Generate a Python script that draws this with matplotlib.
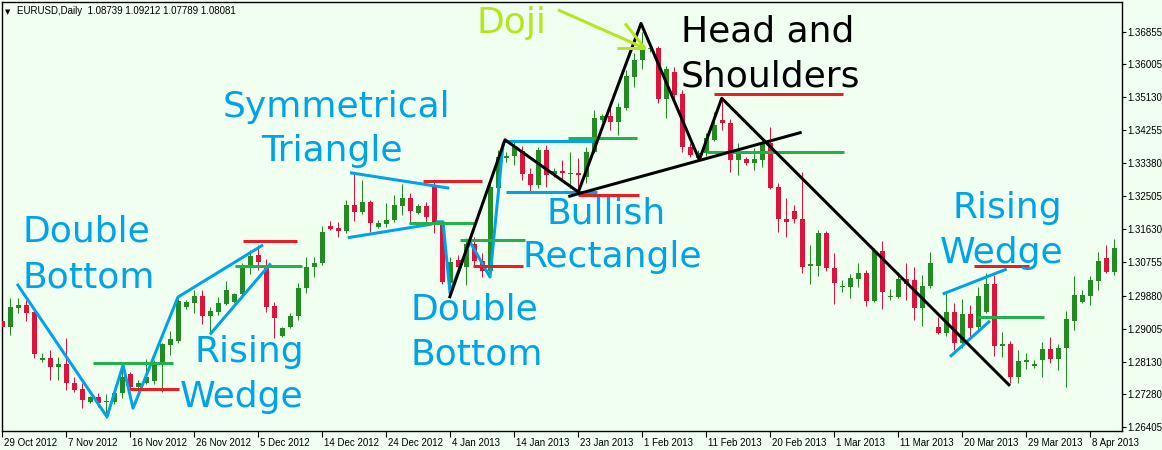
import numpy as np
import matplotlib
matplotlib.use("Agg")
import matplotlib.pyplot as plt

# ---------------- data (EURUSD daily candles) ----------------
opens = [
1.2921, 1.2905, 1.2955, 1.2963, 1.2944, 1.2817, 1.2823, 1.2799, 1.2807, 1.2757,
1.2741, 1.2706, 1.2720, 1.2706, 1.2706, 1.2730, 1.2780, 1.2746, 1.2757, 1.2762,
1.2810, 1.2857, 1.2868, 1.2958, 1.2968, 1.2987, 1.2934, 1.2944, 1.2966, 1.2971,
1.2992, 1.3063, 1.3095, 1.3069, 1.2960, 1.2881, 1.2905, 1.2934, 1.3008, 1.3063,
1.3074, 1.3172, 1.3167, 1.3159, 1.3228, 1.3209, 1.3235, 1.3169, 1.3177, 1.3188,
1.3225, 1.3246, 1.3206, 1.3225, 1.3280, 1.3175, 1.3021, 1.3082, 1.3063, 1.3124,
1.3079, 1.3053, 1.3273, 1.3352, 1.3357, 1.3370, 1.3310, 1.3280, 1.3373, 1.3310,
1.3318, 1.3310, 1.3312, 1.3302, 1.3368, 1.3452, 1.3463, 1.3447, 1.3484, 1.3566,
1.3611, 1.3640, 1.3643, 1.3508, 1.3579, 1.3521, 1.3381, 1.3352, 1.3365, 1.3400,
1.3452, 1.3445, 1.3347, 1.3349, 1.3339, 1.3347, 1.3392, 1.3275, 1.3191, 1.3212,
1.3191, 1.3066, 1.3066, 1.3153, 1.3061, 1.3011, 1.3011, 1.3032, 1.3048, 1.2974,
1.3106, 1.2984, 1.2984, 1.3032, 1.3029, 1.2955, 1.3013, 1.2905, 1.2889, 1.2944,
1.2862, 1.2939, 1.2905, 1.2944, 1.3019, 1.2854, 1.2860, 1.2772, 1.2812, 1.2802,
1.2817, 1.2847, 1.2820, 1.2849, 1.2921, 1.2971, 1.2987, 1.3026, 1.3087, 1.3050,
]
highs = [
1.2934, 1.2981, 1.2981, 1.2976, 1.2950, 1.2836, 1.2844, 1.2825, 1.2876, 1.2772,
1.2757, 1.2722, 1.2730, 1.2727, 1.2743, 1.2804, 1.2786, 1.2765, 1.2820, 1.2817,
1.2862, 1.2894, 1.2981, 1.2976, 1.3003, 1.3003, 1.2958, 1.2984, 1.3026, 1.2995,
1.3074, 1.3109, 1.3122, 1.3085, 1.2971, 1.2905, 1.2942, 1.3021, 1.3090, 1.3090,
1.3172, 1.3185, 1.3183, 1.3241, 1.3312, 1.3294, 1.3241, 1.3188, 1.3233, 1.3254,
1.3283, 1.3259, 1.3230, 1.3235, 1.3288, 1.3183, 1.3090, 1.3095, 1.3140, 1.3143,
1.3101, 1.3294, 1.3373, 1.3368, 1.3394, 1.3384, 1.3325, 1.3381, 1.3386, 1.3325,
1.3347, 1.3368, 1.3352, 1.3381, 1.3479, 1.3468, 1.3484, 1.3497, 1.3585, 1.3630,
1.3685, 1.3656, 1.3648, 1.3595, 1.3593, 1.3532, 1.3392, 1.3373, 1.3418, 1.3474,
1.3505, 1.3455, 1.3392, 1.3355, 1.3378, 1.3400, 1.3434, 1.3286, 1.3246, 1.3228,
1.3315, 1.3122, 1.3161, 1.3159, 1.3101, 1.3029, 1.3045, 1.3074, 1.3056, 1.3114,
1.3132, 1.3005, 1.3050, 1.3074, 1.3063, 1.3042, 1.3103, 1.2931, 1.2995, 1.2968,
1.2979, 1.2963, 1.3011, 1.3048, 1.3042, 1.2892, 1.2868, 1.2844, 1.2836, 1.2817,
1.2865, 1.2878, 1.2860, 1.2947, 1.3040, 1.3003, 1.3040, 1.3103, 1.3122, 1.3138,
]
lows = [
1.2884, 1.2884, 1.2942, 1.2921, 1.2823, 1.2812, 1.2765, 1.2765, 1.2738, 1.2733,
1.2690, 1.2704, 1.2693, 1.2664, 1.2701, 1.2717, 1.2738, 1.2741, 1.2754, 1.2754,
1.2733, 1.2831, 1.2862, 1.2952, 1.2942, 1.2913, 1.2892, 1.2937, 1.2963, 1.2968,
1.2984, 1.3045, 1.3056, 1.2944, 1.2876, 1.2878, 1.2902, 1.2923, 1.2995, 1.3037,
1.3069, 1.3161, 1.3143, 1.3153, 1.3185, 1.3204, 1.3156, 1.3167, 1.3169, 1.3183,
1.3201, 1.3183, 1.3204, 1.3183, 1.3153, 1.3019, 1.3011, 1.3045, 1.3016, 1.3063,
1.3037, 1.3048, 1.3267, 1.3341, 1.3334, 1.3294, 1.3259, 1.3273, 1.3275, 1.3302,
1.3294, 1.3273, 1.3267, 1.3286, 1.3365, 1.3447, 1.3426, 1.3413, 1.3479, 1.3540,
1.3587, 1.3632, 1.3497, 1.3458, 1.3497, 1.3368, 1.3355, 1.3347, 1.3357, 1.3397,
1.3426, 1.3315, 1.3307, 1.3334, 1.3320, 1.3328, 1.3270, 1.3156, 1.3143, 1.3180,
1.3048, 1.3019, 1.3040, 1.3053, 1.2966, 1.2997, 1.2981, 1.3011, 1.2960, 1.2971,
1.2952, 1.2976, 1.2981, 1.2976, 1.2923, 1.2907, 1.3008, 1.2886, 1.2881, 1.2844,
1.2849, 1.2878, 1.2897, 1.2942, 1.2828, 1.2825, 1.2757, 1.2757, 1.2794, 1.2796,
1.2772, 1.2810, 1.2791, 1.2746, 1.2897, 1.2968, 1.2963, 1.3003, 1.3048, 1.3042,
]
closes = [
1.2905, 1.2958, 1.2963, 1.2942, 1.2833, 1.2823, 1.2799, 1.2807, 1.2757, 1.2738,
1.2712, 1.2720, 1.2704, 1.2709, 1.2730, 1.2772, 1.2746, 1.2757, 1.2772, 1.2810,
1.2860, 1.2873, 1.2974, 1.2971, 1.2987, 1.2934, 1.2947, 1.2968, 1.3003, 1.2992,
1.3063, 1.3093, 1.3077, 1.2958, 1.2929, 1.2902, 1.2934, 1.3008, 1.3063, 1.3074,
1.3156, 1.3164, 1.3159, 1.3228, 1.3209, 1.3235, 1.3180, 1.3180, 1.3188, 1.3228,
1.3246, 1.3212, 1.3225, 1.3196, 1.3180, 1.3024, 1.3077, 1.3063, 1.3124, 1.3079,
1.3053, 1.3275, 1.3355, 1.3357, 1.3381, 1.3310, 1.3280, 1.3373, 1.3307, 1.3318,
1.3312, 1.3312, 1.3307, 1.3368, 1.3458, 1.3463, 1.3447, 1.3487, 1.3569, 1.3611,
1.3646, 1.3643, 1.3508, 1.3587, 1.3519, 1.3381, 1.3360, 1.3365, 1.3405, 1.3439,
1.3445, 1.3347, 1.3368, 1.3339, 1.3349, 1.3392, 1.3273, 1.3191, 1.3183, 1.3191,
1.3063, 1.3071, 1.3153, 1.3061, 1.3021, 1.3013, 1.3034, 1.3048, 1.2974, 1.3106,
1.2997, 1.2987, 1.3032, 1.3019, 1.2955, 1.3013, 1.3074, 1.2889, 1.2944, 1.2862,
1.2939, 1.2902, 1.2987, 1.3019, 1.2854, 1.2860, 1.2772, 1.2815, 1.2817, 1.2807,
1.2847, 1.2820, 1.2849, 1.2926, 1.2989, 1.2989, 1.3029, 1.3079, 1.3050, 1.3114,
]

date_labels = ["29 Oct 2012", "7 Nov 2012", "16 Nov 2012", "26 Nov 2012", "5 Dec 2012",
               "14 Dec 2012", "24 Dec 2012", "4 Jan 2013", "14 Jan 2013", "23 Jan 2013",
               "1 Feb 2013", "11 Feb 2013", "20 Feb 2013", "1 Mar 2013", "11 Mar 2013",
               "20 Mar 2013", "29 Mar 2013", "8 Apr 2013"]
date_bar_idx = [0, 8, 16, 24, 32, 40, 48, 56, 64, 72, 80, 88, 96, 104, 112, 120, 128, 136]
price_ticks = [1.36855, 1.36005, 1.35130, 1.34255, 1.33380, 1.32505, 1.31630,
               1.30755, 1.29880, 1.29005, 1.28130, 1.27280, 1.26405]

# annotation drawings (bar index, price)
blue_db1_x = [1.84, 13.09, 15.09, 16.34, 21.96, 32.59]
blue_db1_y = [1.3019, 1.2667, 1.2804, 1.2690, 1.2984, 1.3122]
blue_rw1_x = [25.96, 33.55]
blue_rw1_y = [1.2885, 1.3073]
blue_tri_up_x = [43.46, 55.88]
blue_tri_up_y = [1.3313, 1.3272]
blue_tri_lo_x = [43.18, 53.68]
blue_tri_lo_y = [1.3141, 1.3177]
blue_db2_x = [54.21, 55.09, 55.96, 58.46, 60.96, 62.63]
blue_db2_y = [1.3183, 1.3183, 1.2995, 1.3130, 1.3037, 1.3395]
blue_rect_top_x = [62.63, 73.80]
blue_rect_top_y = [1.3397, 1.3397]
blue_rect_bot_x = [62.96, 74.34]
blue_rect_bot_y = [1.3261, 1.3261]
blue_rw2_up_x = [117.55, 125.55]
blue_rw2_up_y = [1.2992, 1.3058]
blue_rw2_lo_x = [118.46, 123.46]
blue_rw2_lo_y = [1.2826, 1.2921]

green_levels = [(11.38, 21.38, 1.2809), (29.09, 37.43, 1.3067), (50.88, 58.96, 1.3181),
                (57.21, 65.34, 1.3135), (70.75, 79.30, 1.3405), (88.05, 105.21, 1.3367),
                (121.88, 130.25, 1.2932)]
red_levels = [(15.96, 22.09, 1.2740), (30.09, 36.84, 1.3132), (52.63, 59.93, 1.3291),
              (58.88, 65.05, 1.3067), (71.96, 79.59, 1.3253), (88.96, 105.05, 1.3520),
              (121.46, 128.34, 1.3066)]

black_path_x = [55.88, 62.84, 72.00, 79.84, 87.13, 89.93, 125.96]
black_path_y = [1.2981, 1.3400, 1.3262, 1.3708, 1.3347, 1.3510, 1.2749]
neck_x = [70.75, 99.92]
neck_y = [1.3250, 1.3420]

doji_arrow_x = [69.46, 80.34]
doji_arrow_y = [1.3744, 1.3642]
doji_head1_x = [77.84, 80.34]
doji_head1_y = [1.3708, 1.3642]
doji_head2_x = [76.80, 80.34]
doji_head2_y = [1.3642, 1.3642]

# ---------------- styling ----------------
W, H, DPI = 1162, 450, 100
BG = "#F0FFF0"
BULL = "#228B22"
BEAR = "#DC143C"
BLUE = "#00A2E8"
GREEN = "#22B14C"
RED = "#ED1C24"
LIME = "#B5E61D"
PX = 72.0 / DPI  # one pixel in points

fig = plt.figure(figsize=(W / DPI, H / DPI), dpi=DPI, facecolor=BG)
L, R, T, B = 1.5, 1121.5, 1.5, 430.5
ax = fig.add_axes([L / W, 1 - B / H, (R - L) / W, (B - T) / H])
ax.set_facecolor(BG)

o = np.array(opens); h = np.array(highs); lo = np.array(lows); c = np.array(closes)
xs = np.arange(len(o))
cols = np.where(c >= o, BULL, BEAR)

ax.vlines(xs, lo, h, colors=cols, linewidth=1 * PX, zorder=2)
body_lo = np.minimum(o, c)
body_h = np.maximum(np.abs(c - o), 0.00028)
ax.bar(xs, body_h, bottom=body_lo, width=0.62, color=cols, linewidth=0, zorder=3)

lw = 3 * PX
def line(xv, yv, color):
    ax.plot(xv, yv, color=color, lw=lw, solid_capstyle="butt", zorder=5)

for xv, yv in [(blue_db1_x, blue_db1_y), (blue_rw1_x, blue_rw1_y),
               (blue_tri_up_x, blue_tri_up_y), (blue_tri_lo_x, blue_tri_lo_y),
               (blue_db2_x, blue_db2_y), (blue_rect_top_x, blue_rect_top_y),
               (blue_rect_bot_x, blue_rect_bot_y), (blue_rw2_up_x, blue_rw2_up_y),
               (blue_rw2_lo_x, blue_rw2_lo_y)]:
    line(xv, yv, BLUE)
for x0, x1, yv in green_levels:
    line([x0, x1], [yv, yv], GREEN)
for x0, x1, yv in red_levels:
    line([x0, x1], [yv, yv], RED)
line(black_path_x, black_path_y, "black")
line(neck_x, neck_y, "black")
line(doji_arrow_x, doji_arrow_y, LIME)
line(doji_head1_x, doji_head1_y, LIME)
line(doji_head2_x, doji_head2_y, LIME)

# axes limits (pixel frame -> data)
ax.set_xlim((L - 2.3) / 8.0, (R - 2.3) / 8.0)
ax.set_ylim(1.3770 - 0.0002646 * B, 1.3770 - 0.0002646 * T)

# ticks
tick_font = dict(family="Liberation Sans", size=7)
ax.set_xticks(date_bar_idx)
ax.set_xticklabels(date_labels, ha="left", **tick_font)
for lab in ax.get_xticklabels():
    lab.set_x(lab.get_position()[0])
ax.tick_params(axis="x", direction="out", length=4, width=0.8, pad=1.5, colors="black")
ax.yaxis.tick_right()
ax.set_yticks(price_ticks)
ax.set_yticklabels([f"{v:.5f}" for v in price_ticks], **tick_font)
ax.tick_params(axis="y", direction="out", length=3, width=0.8, pad=1.5, colors="black")
for s in ax.spines.values():
    s.set_color("black")
    s.set_linewidth(1.0)

# shift x tick labels slightly to the right of their tick
import matplotlib.transforms as mtrans
offset = mtrans.ScaledTranslation(1.5 / DPI, 0, fig.dpi_scale_trans)
for lab in ax.get_xticklabels():
    lab.set_transform(lab.get_transform() + offset)

# ---------------- texts ----------------
def fpx(x, y):
    return x / W, 1 - y / H

big = dict(family="DejaVu Sans", size=26, ha="left", va="baseline", transform=fig.transFigure, zorder=6)
texts = [
    ("Double", 22, 242, BLUE), ("Bottom", 22, 287, BLUE),
    ("Rising", 195, 362, BLUE), ("Wedge", 180, 406.5, BLUE),
    ("Symmetrical", 223, 117.5, BLUE), ("Triangle", 261, 161.5, BLUE),
    ("Double", 411, 320, BLUE), ("Bottom", 411, 364.5, BLUE),
    ("Bullish", 547, 223.5, BLUE), ("Rectangle", 522, 267, BLUE),
    ("Head and", 681, 42, "black"), ("Shoulders", 681, 86.5, "black"),
    ("Rising", 952, 218.5, BLUE), ("Wedge", 940, 263, BLUE),
    ("Doji", 477, 33, LIME),
]
for s, x, y, col in texts:
    fx, fy = fpx(x, y)
    fig.text(fx, fy, s, color=col, **big)

hx, hy = fpx(5, 14)
fig.text(hx, hy, "\u25BC", family="DejaVu Sans", size=5, color="black", va="baseline", ha="left",
         transform=fig.transFigure)
hx, hy = fpx(17, 14)
fig.text(hx, hy, "EURUSD,Daily  1.08739 1.09212 1.07789 1.08081", family="Liberation Sans",
         size=7, color="black", va="baseline", ha="left", transform=fig.transFigure)

fig.savefig("out.png", dpi=DPI, facecolor=BG)
